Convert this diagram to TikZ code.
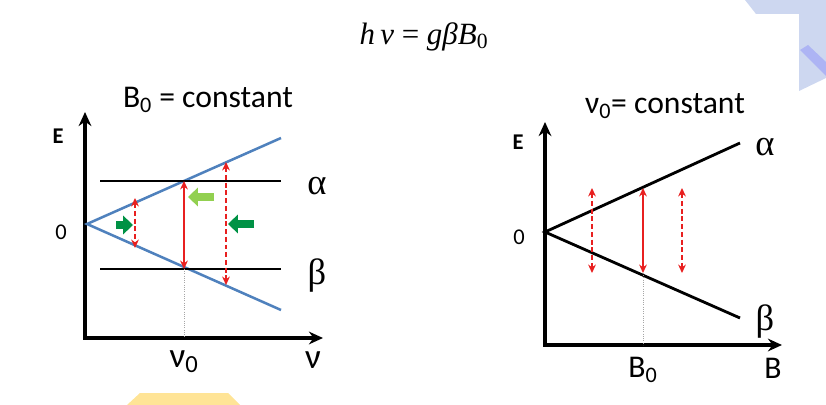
\documentclass[tikz,border=0pt]{standalone}
\usepackage{fontspec}
\setmainfont{Carlito}
\newfontfamily\symfont{Liberation Serif}
\usetikzlibrary{positioning,calc,arrows.meta}

\definecolor{lineblue}{RGB}{79,129,189}
\definecolor{arrred}{RGB}{232,32,32}
\definecolor{darkgreen}{RGB}{0,146,69}
\definecolor{lightgreen}{RGB}{146,208,80}
\definecolor{decoblue}{RGB}{205,215,240}
\definecolor{decoyellow}{RGB}{255,228,150}

\tikzset{
  axis/.style={line width=2.3pt,{Stealth[length=10pt,width=9pt]}-{Stealth[length=10pt,width=9pt]}},
  level/.style={line width=2pt},
  trans/.style={arrred,line width=1.6pt,{Stealth[length=6pt,width=5.5pt]}-{Stealth[length=6pt,width=5.5pt]}},
  transd/.style={trans,dash pattern=on 3.5pt off 2pt},
  push/.style={line width=5pt,-{Triangle[length=7pt,width=13pt]}},
  guide/.style={gray!70,line width=0.6pt,densely dotted},
  big/.style={font=\fontsize{22.5}{26}\selectfont},
  small/.style={font=\fontsize{16}{18}\selectfont},
  greek/.style={font=\fontsize{26}{30}\selectfont\symfont}
}

\begin{document}
\begin{tikzpicture}[x=0.025cm,y=-0.025cm]
\useasboundingbox (0,0) rectangle (826,405);
% slide decoration
\fill[decoblue] (745,0) -- (826,0) -- (826,78) -- (799,91) -- (799,14) -- (756,14) -- cycle;
\fill[decoblue!80!blue!90] (800,50) -- (808,45) -- (826,62) -- (826,76) -- cycle;
\fill[decoyellow] (127,405) -- (140,393) -- (228,393) -- (240,405) -- cycle;

% formula
\node (eq) at (424,37) {\fontsize{22}{26}\selectfont\symfont\itshape h\,ν \upshape=\itshape\ gβB\textsubscript{\upshape 0}};

% ---- left: B0 = constant
\node[big] (t1) at (208,100) {B\textsubscript{0} = constant};
\coordinate (Y1) at (85,112);
\coordinate (X1) at (323,338);
\draw[axis] (Y1) |- (X1);
\node[font=\fontsize{16}{18}\selectfont\bfseries] (E1) at (58,136) {E};
\node[small] (z1) at (61,232) {0};
\coordinate (O1) at (87,224);
\coordinate (A1) at (281,138);
\coordinate (B1) at (281,310);
\draw[lineblue,line width=1.8pt] (A1) -- (O1) -- (B1);
\coordinate (la) at (100,181);
\coordinate (lae) at (281,181);
\coordinate (lb) at (100,269);
\coordinate (lbe) at (281,269);
\draw[level] (la) -- (lae);
\draw[level] (lb) -- (lbe);
\node[greek] (al1) at (317,186) {α};
\node[greek] (be1) at (317,276) {β};
% transitions
\coordinate (r1t) at (135,198);
\coordinate (r1b) at (135,248);
\coordinate (r2t) at (184,181);
\coordinate (r2b) at (184,269);
\coordinate (r3t) at (226,162);
\coordinate (r3b) at (226,285);
\draw[transd] (r1t) -- (r1b);
\draw[trans] (r2t) -- (r2b);
\draw[transd] (r3t) -- (r3b);
\coordinate (g0) at (184,338);
\draw[guide] (r2b) -- (g0);
% field arrows
\coordinate (p1s) at (116,225);
\coordinate (p1e) at (133,225);
\coordinate (p2s) at (214,197);
\coordinate (p2e) at (188,197);
\coordinate (p3s) at (254,224);
\coordinate (p3e) at (228,224);
\draw[push,darkgreen] (p1s) -- (p1e);
\draw[push,lightgreen] (p2s) -- (p2e);
\draw[push,darkgreen] (p3s) -- (p3e);
\node[font=\fontsize{25}{29}\selectfont] (nu0) at (184,362) {ν\textsubscript{0}};
\node[font=\fontsize{25}{29}\selectfont] (nu) at (313,360) {ν};

% ---- right: nu0 = constant
\node[big] (t2) at (665,106) {ν\textsubscript{0}= constant};
\coordinate (Y2) at (545,122);
\coordinate (X2) at (782,345);
\draw[axis] (Y2) |- (X2);
\node[font=\fontsize{16}{18}\selectfont\bfseries] (E2) at (518,142) {E};
\node[small] (z2) at (519,237) {0};
\coordinate (O2) at (545,232);
\coordinate (A2) at (740,143);
\coordinate (B2) at (740,318);
\draw[line width=2pt] (A2) -- (O2) -- (B2);
\node[greek] (al2) at (765,147) {α};
\node[greek] (be2) at (765,322) {β};
\foreach \xx/\sty in {592/transd,643/trans,682/transd} {
  \coordinate (s\xx) at (\xx,188);
  \coordinate (e\xx) at (\xx,273);
  \draw[\sty] (s\xx) -- (e\xx);
}
\coordinate (g2) at (643,345);
\draw[guide] (e643) -- (g2);
\node[big] (B0) at (643,370) {B\textsubscript{0}};
\node[big] (Bf) at (773,368) {B};
\end{tikzpicture}
\end{document}
